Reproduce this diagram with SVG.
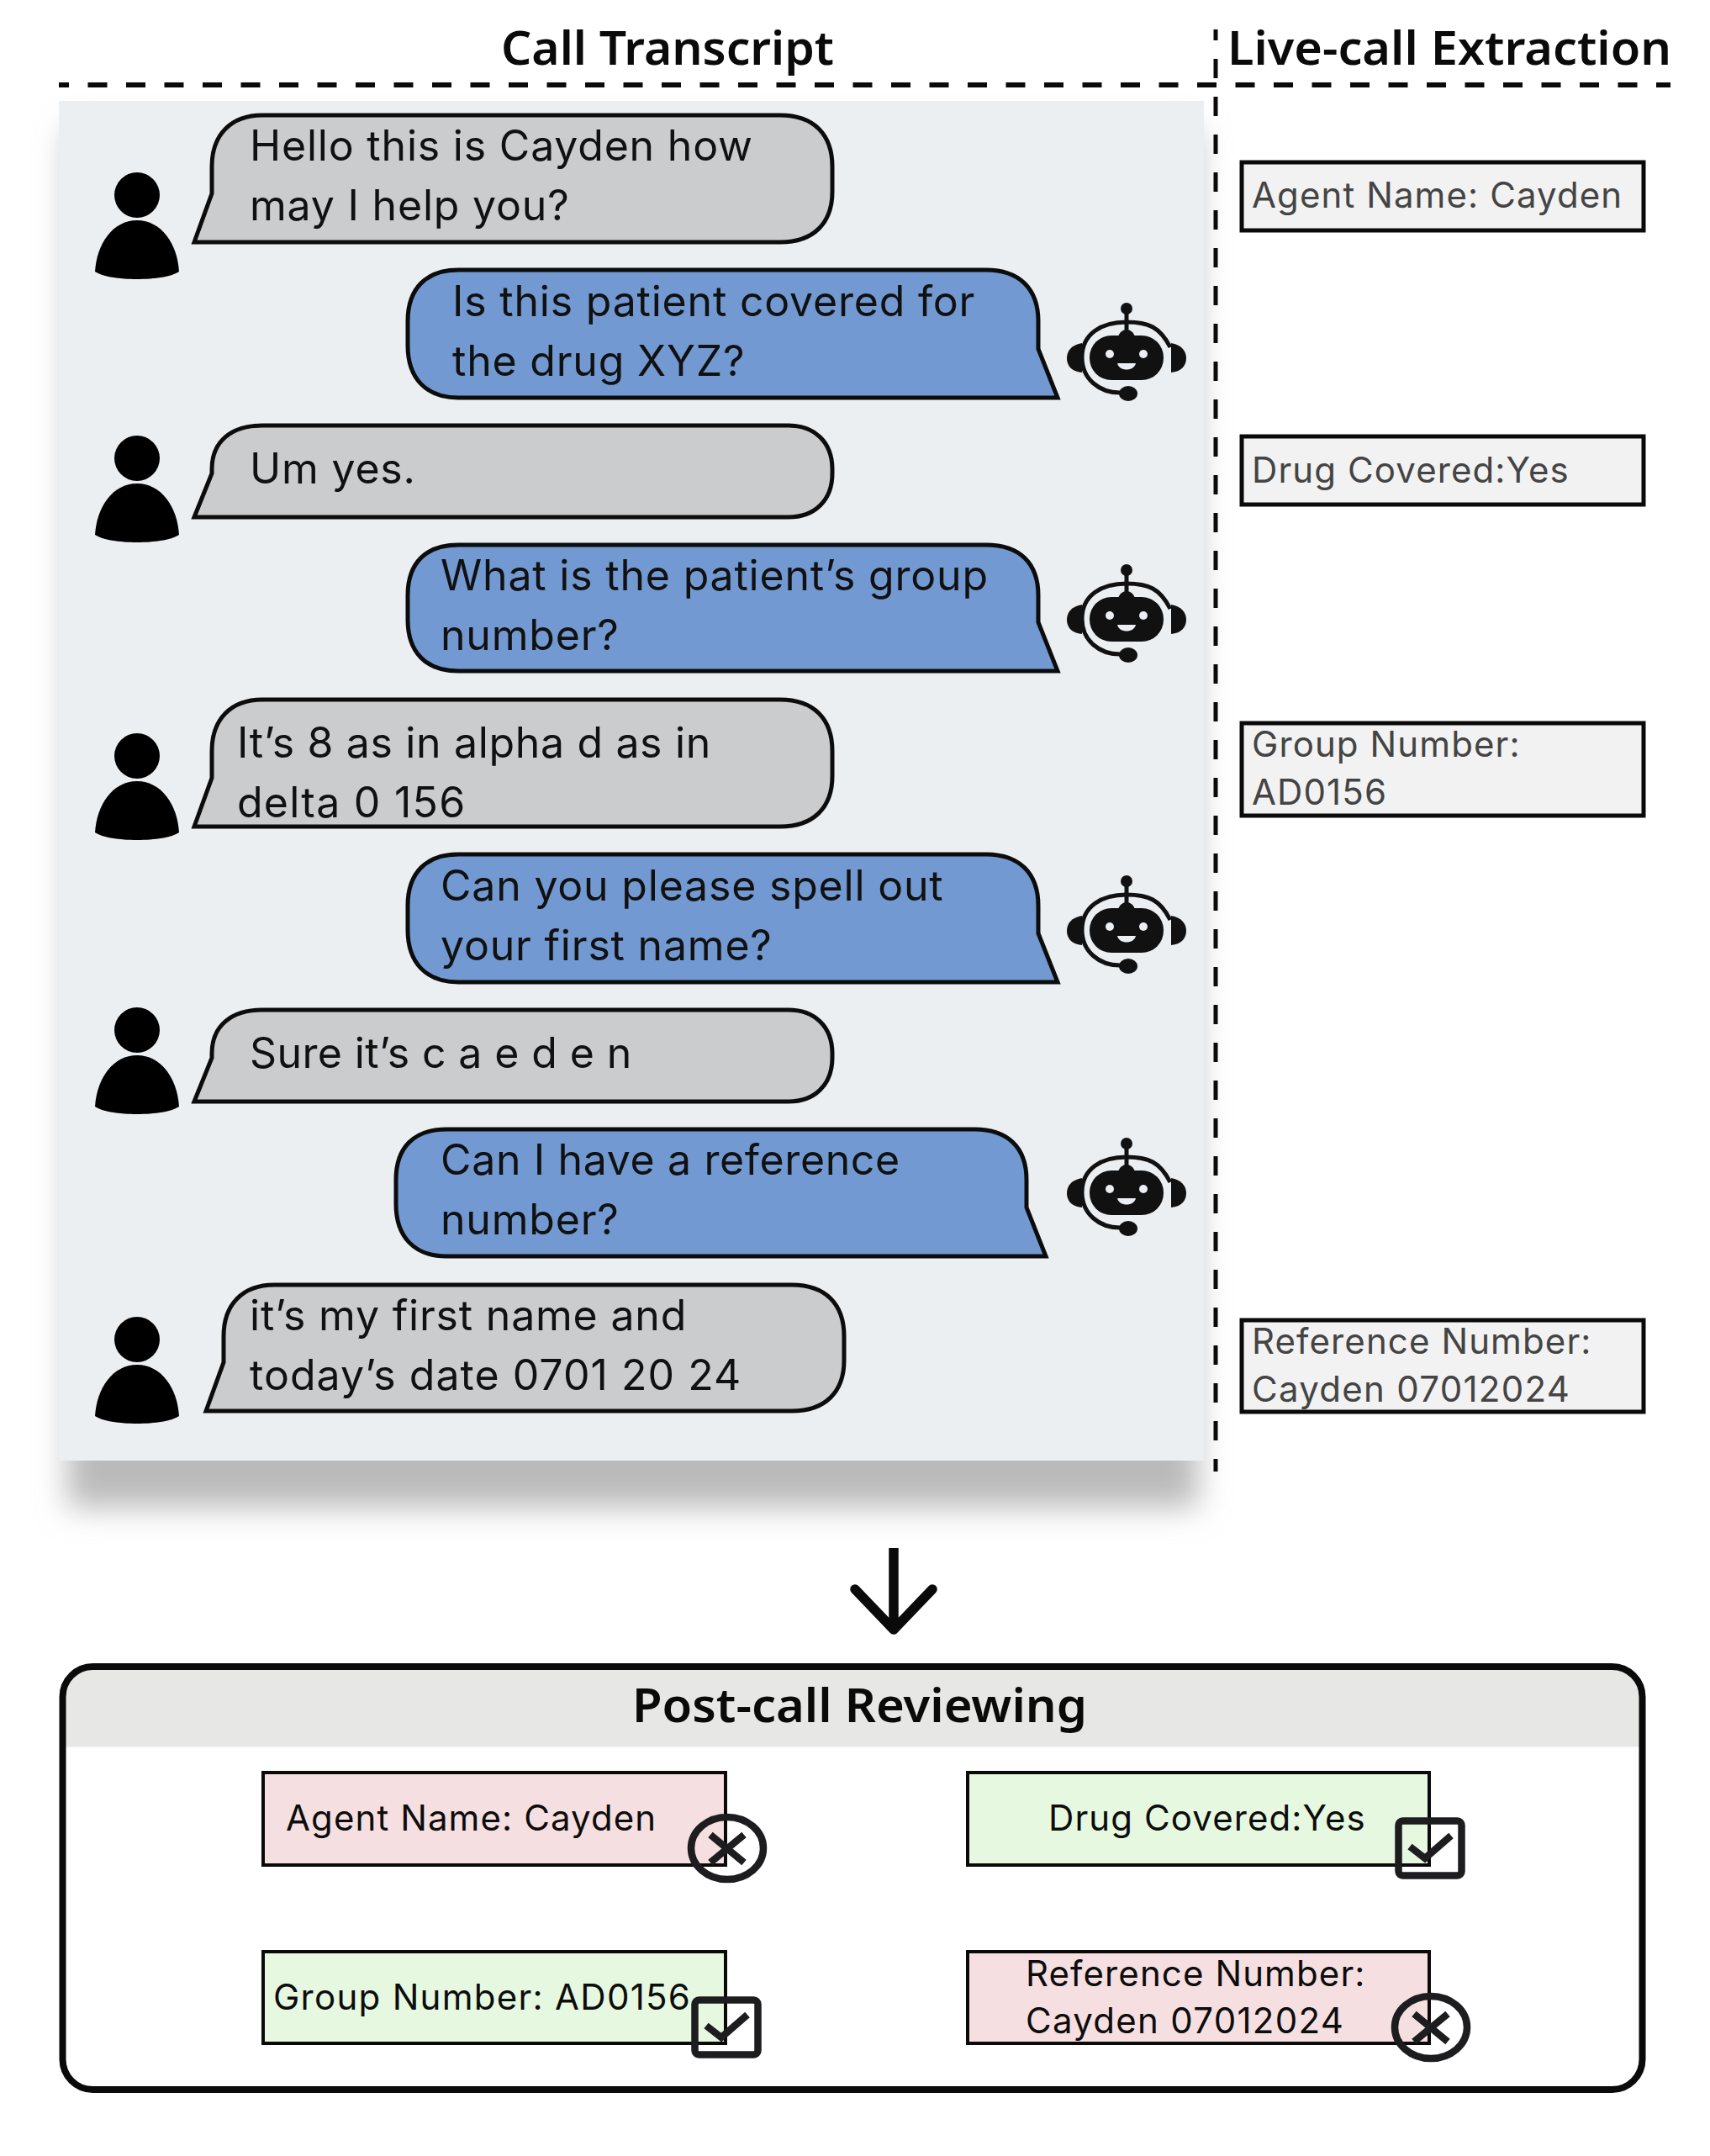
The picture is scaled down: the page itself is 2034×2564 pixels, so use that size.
<svg xmlns="http://www.w3.org/2000/svg" width="2034" height="2564" viewBox="0 0 2034 2564">
<style>
.title{font-family:"Noto Sans","Open Sans",sans-serif;font-weight:600;font-size:56px;fill:#0a0a0a}
.msg{font-family:Inter,"Noto Sans",sans-serif;font-size:50px;letter-spacing:.8px;fill:#111}
.ext{font-family:Inter,"Noto Sans",sans-serif;font-size:42px;letter-spacing:1.1px;fill:#444}
.rev{font-family:Inter,"Noto Sans",sans-serif;font-size:42px;letter-spacing:1.1px;fill:#0d0d0d}
.gray{fill:#cbccce;stroke:#0c0c0c;stroke-width:5;stroke-linejoin:miter}
.blue{fill:#7299d1;stroke:#0c0c0c;stroke-width:5;stroke-linejoin:miter}
.box{fill:#f2f2f2;stroke:#0a0a0a;stroke-width:5}
.pink{fill:#f6dfe0;stroke:#0a0a0a;stroke-width:4}
.green{fill:#e6f8df;stroke:#0a0a0a;stroke-width:4}
.dash{fill:none;stroke:#0a0a0a}
.icon{fill:none;stroke:#1d1d20;stroke-width:8.5}
</style>
<defs>
<filter id="soft" x="-5%" y="-5%" width="110%" height="110%"><feGaussianBlur stdDeviation="18"/></filter>
<g id="person">
<circle cx="163" cy="232" r="27"/>
<path d="M163 262C192 262 211 290 213 323C196 335 130 335 113 323C115 290 134 262 163 262Z"/>
</g>
<g id="robot">
<path d="M1340 382C1310 382 1287 396 1287 424C1287 450 1308 466 1332 466" fill="none" stroke="#111" stroke-width="5"/>
<path d="M1340 382C1366 382 1380 388 1392 412" fill="none" stroke="#111" stroke-width="5"/>
<path d="M1287 407C1275 409 1269 416 1269 425C1269 434 1275 441 1287 442Z" fill="#111"/>
<path d="M1393 407C1405 409 1411 416 1411 425C1411 434 1405 441 1393 442Z" fill="#111"/>
<rect x="1296" y="398" width="88" height="53" rx="26" fill="#111"/>
<circle cx="1340" cy="401" r="10" fill="#111"/>
<path d="M1340 370V398" stroke="#111" stroke-width="5"/>
<circle cx="1340" cy="366" r="7" fill="#111"/>
<ellipse cx="1342" cy="467" rx="11" ry="9" fill="#111"/>
<circle cx="1320" cy="420" r="5" fill="#ebeef2"/>
<circle cx="1360" cy="420" r="5" fill="#ebeef2"/>
<path d="M1329 431H1351C1349 441 1331 441 1329 431Z" fill="#ebeef2"/>
</g>
<g id="xmark" class="icon">
<ellipse cx="865" cy="2198" rx="43" ry="37"/>
<path d="M845 2182L885 2215M885 2182L845 2215"/>
</g>
<g id="checkmark" class="icon">
<rect x="1663.5" y="2165.500" width="75" height="65" rx="5"/>
<path d="M1677 2196L1695 2210L1726 2183"/>
</g>
</defs>
<rect width="2034" height="2564" fill="#fff"/>
<g id="panel">
<rect x="80" y="155" width="1345" height="1638" fill="#bababa" filter="url(#soft)"/>
<rect x="70" y="120" width="1362" height="1617" fill="#ecEff2"/>
</g>
<g id="connectors">
<path class="dash" d="M70 101H1987" stroke-width="6" stroke-dasharray="23 22.500" stroke-dashoffset="11"/>
<path class="dash" d="M1446 35V1750" stroke-width="5" stroke-dasharray="23 22" stroke-dashoffset="10"/>
<path d="M1063 1841V1938" fill="none" stroke="#0a0a0a" stroke-width="11.500"/>
<path d="M1017 1890L1063 1938L1109 1890" fill="none" stroke="#0a0a0a" stroke-width="11.500" stroke-linejoin="round" stroke-linecap="round"/>
</g>
<g id="title-transcript"><text class="title" x="596" y="77" textLength="396" lengthAdjust="spacingAndGlyphs">Call Transcript</text></g>
<g id="title-extraction"><text class="title" x="1460" y="77" textLength="528" lengthAdjust="spacingAndGlyphs">Live-call Extraction</text></g>
<g id="msg-1">
<use href="#person" fill="#000"/>
<path class="gray" d="M231 288L252 230V198C252 160 275 137 312 137H928C968 137 990 160 990 198V228C990 265 968 288 928 288Z"/>
<text class="msg" x="297" y="191">Hello this is Cayden how</text>
<text class="msg" x="297" y="262">may I help you?</text>
</g>
<g id="msg-2">
<path class="blue" d="M1258 473L1235 415V382C1235 343 1212 321 1173 321H545C507 321 485 343 485 382V411C485 450 507 473 545 473Z"/>
<text class="msg" x="538" y="376">Is this patient covered for</text>
<text class="msg" x="538" y="447">the drug XYZ?</text>
<use href="#robot" y="1"/>
</g>
<g id="msg-3">
<use href="#person" fill="#000" y="313"/>
<path class="gray" d="M231 615L252 563V558C252 525 275 506 312 506H938C968 506 990 525 990 558V563C990 596 968 615 938 615Z"/>
<text class="msg" x="297" y="575">Um yes.</text>
</g>
<g id="msg-4">
<path class="blue" d="M1258 798L1235 740V708C1235 669 1212 648 1173 648H545C507 648 485 669 485 708V737C485 776 507 798 545 798Z"/>
<text class="msg" x="524" y="702">What is the patient’s group</text>
<text class="msg" x="524" y="773">number?</text>
<use href="#robot" y="312"/>
</g>
<g id="msg-5">
<use href="#person" fill="#000" y="667"/>
<path class="gray" d="M231 983L252 925V893C252 855 275 832 312 832H928C968 832 990 855 990 893V923C990 960 968 983 928 983Z"/>
<text class="msg" x="282" y="901" textLength="564">It’s 8 as in alpha d as in</text>
<text class="msg" x="282" y="972" textLength="272">delta 0 156</text>
</g>
<g id="msg-6">
<path class="blue" d="M1258 1168L1235 1110V1077C1235 1038 1212 1016 1173 1016H545C507 1016 485 1038 485 1077V1106C485 1145 507 1168 545 1168Z"/>
<text class="msg" x="524" y="1071">Can you please spell out</text>
<text class="msg" x="524" y="1142">your first name?</text>
<use href="#robot" y="682"/>
</g>
<g id="msg-7">
<use href="#person" fill="#000" y="993"/>
<path class="gray" d="M231 1310L252 1258V1253C252 1220 275 1201 312 1201H938C968 1201 990 1220 990 1253V1258C990 1291 968 1310 938 1310Z"/>
<text class="msg" x="297" y="1270" textLength="455">Sure it’s c a e d e n</text>
</g>
<g id="msg-8">
<path class="blue" d="M1244 1494L1221 1436V1403C1221 1364 1198 1343 1159 1343H531C493 1343 471 1364 471 1403V1432C471 1471 493 1494 531 1494Z"/>
<text class="msg" x="524" y="1397" textLength="547">Can I have a reference</text>
<text class="msg" x="524" y="1468">number?</text>
<use href="#robot" y="994"/>
</g>
<g id="msg-9">
<use href="#person" fill="#000" y="1361"/>
<path class="gray" d="M245 1678L266 1620V1589C266 1551 289 1528 326 1528H942C982 1528 1004 1551 1004 1589V1618C1004 1655 982 1678 942 1678Z"/>
<text class="msg" x="297" y="1582">it’s my first name and</text>
<text class="msg" x="297" y="1653" textLength="585">today’s date 0701 20 24</text>
</g>
<g id="extract-agent"><rect class="box" x="1477" y="193" width="478" height="81"/><text class="ext" x="1489" y="247">Agent Name: Cayden</text></g>
<g id="extract-drug"><rect class="box" x="1477" y="519" width="478" height="81"/><text class="ext" x="1489" y="574">Drug Covered:Yes</text></g>
<g id="extract-group"><rect class="box" x="1477" y="860" width="478" height="110"/><text class="ext" x="1489" y="900">Group Number:</text><text class="ext" x="1489" y="957">AD0156</text></g>
<g id="extract-reference"><rect class="box" x="1477" y="1570" width="478" height="109"/><text class="ext" x="1489" y="1610">Reference Number:</text><text class="ext" x="1489" y="1667" textLength="379">Cayden 07012024</text></g>
<g id="review">
<rect x="74.500" y="1982" width="1879" height="503" rx="36" fill="#fff"/>
<path d="M74.500 2077.500V2018C74.500 1998 90 1982 110 1982H1918C1938 1982 1953.500 1998 1953.500 2018V2077.500Z" fill="#e7e7e6"/>
<rect x="74.500" y="1982" width="1879" height="503" rx="36" fill="none" stroke="#0a0a0a" stroke-width="8"/>
<text class="title" x="752" y="2048" textLength="541" lengthAdjust="spacingAndGlyphs">Post-call Reviewing</text>
</g>
<g id="review-agent"><rect class="pink" x="313" y="2108" width="550" height="110"/><text class="rev" x="340" y="2177">Agent Name: Cayden</text><use href="#xmark"/></g>
<g id="review-drug"><rect class="green" x="1151" y="2108" width="549" height="110"/><text class="rev" x="1247" y="2177">Drug Covered:Yes</text><use href="#checkmark"/></g>
<g id="review-group"><rect class="green" x="313" y="2321" width="550" height="109"/><text class="rev" x="325" y="2390" textLength="497">Group Number: AD0156</text><use href="#checkmark" x="-837" y="213"/></g>
<g id="review-reference"><rect class="pink" x="1151" y="2321" width="549" height="109"/><text class="rev" x="1220" y="2362">Reference Number:</text><text class="rev" x="1220" y="2418" textLength="379">Cayden 07012024</text><use href="#xmark" x="837" y="213"/></g>
</svg>
